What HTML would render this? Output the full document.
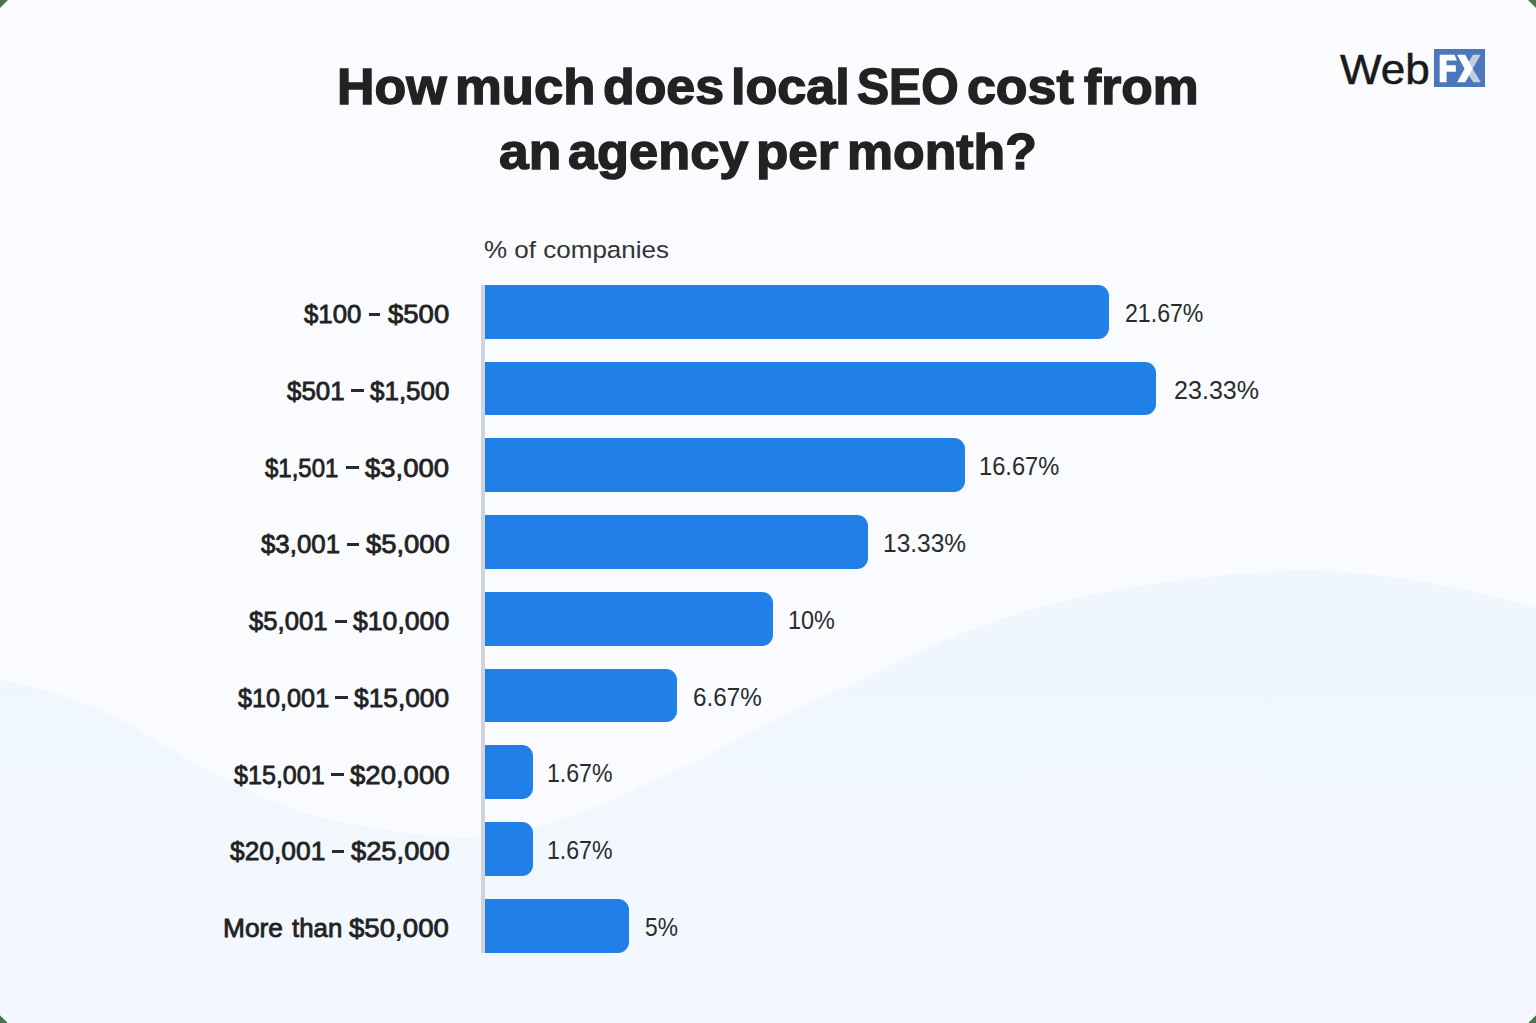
<!DOCTYPE html>
<html><head><meta charset="utf-8">
<style>
html,body{margin:0;padding:0;}
body{width:1536px;height:1023px;background:#4a7350;position:relative;overflow:hidden;font-family:"Liberation Sans",sans-serif;}
#card{position:absolute;left:0;top:0;width:1536px;height:1023px;background:#f9fbfe;clip-path:polygon(8px 0,1528px 0,1536px 8px,1536px 1015px,1528px 1023px,8px 1023px,0 1015px,0 8px);overflow:hidden;}
#wave{position:absolute;left:0;top:0;}
.t{position:absolute;white-space:nowrap;line-height:60px;transform-origin:0 0;font-family:"Liberation Sans",sans-serif;}
#fx{position:absolute;left:1433.5px;top:49px;}
#axis{position:absolute;left:481px;top:284.8px;width:3.5px;height:668.1px;background:#cfd4db;}
.dash{position:absolute;height:3px;background:#2a2a2a;}
.bar{position:absolute;left:484.5px;height:53.8px;background:#217fe8;border-radius:0 11px 11px 0;}
</style></head><body>
<div id="card">
<svg id="wave" width="1536" height="1023" viewBox="0 0 1536 1023"><defs><linearGradient id="wg" x1="0" y1="570" x2="0" y2="1023" gradientUnits="userSpaceOnUse"><stop offset="0" stop-color="#eff6fe"/><stop offset="1" stop-color="#f4f8fe"/></linearGradient></defs>
<path d="M-20,675 C-13.3,676.3 -6.7,677.5 0,679 C32.7,686.1 65.3,694.9 98,709 C130.3,723.0 162.7,746.4 195,763 C226.7,779.3 258.3,796.8 290,808 C324.7,820.2 359.3,826.2 394,831 C422.7,835.0 451.3,839.2 480,837 C506.7,835.0 533.3,828.2 560,820 C590.0,810.8 620.0,796.2 650,783 C705.7,758.4 761.3,726.1 817,700 C879.3,670.7 941.7,638.3 1004,618 C1073.3,595.4 1142.7,583.6 1212,576.5 C1248.0,572.8 1284.0,570.0 1320,571 C1360.0,572.1 1400.0,577.6 1440,585 C1472.0,590.9 1504.0,599.0 1536,608 C1544.0,610.2 1552.0,612.7 1560,615 L1560,1023 L-20,1023 Z" fill="url(#wg)"/>
</svg>
<svg id="fx" width="51.5" height="38" viewBox="0 0 51.5 38">
<rect x="0" y="0" width="51.5" height="38" fill="#4d77bd"/>
<path d="M5.7,5.77 L20.5,5.77 L22.9,11.6 L12.56,11.6 L12.56,16.24 L21.8,16.24 L21.8,22.84 L12.56,22.84 L12.56,33.18 L5.7,33.18 Z" fill="#ffffff"/>
<path d="M38.95,5.77 L46.65,5.77 L38.7,19.76 L46.9,33.18 L39.4,33.18 L30.6,19.76 Z" fill="#bfcfde"/>
<path d="M23.1,5.77 L31.26,5.77 L38.7,19.76 L31.26,33.18 L23.1,33.18 L30.6,19.76 Z" fill="#ffffff"/>
</svg>
<div id="axis"></div>
<div class="bar" style="top:284.80px;width:624.10px"></div>
<div class="bar" style="top:361.56px;width:671.90px"></div>
<div class="bar" style="top:438.32px;width:480.10px"></div>
<div class="bar" style="top:515.08px;width:383.90px"></div>
<div class="bar" style="top:591.84px;width:288.00px"></div>
<div class="bar" style="top:668.60px;width:192.10px"></div>
<div class="bar" style="top:745.36px;width:48.10px"></div>
<div class="bar" style="top:822.12px;width:48.10px"></div>
<div class="bar" style="top:898.88px;width:144.00px"></div>
<div class="t" style="left:336.85px;top:57.30px;transform:scaleX(1.0490);font-weight:bold;font-size:49.5px;-webkit-text-stroke:1.4px #222222;color:#222222">How</div>
<div class="t" style="left:454.81px;top:57.30px;transform:scaleX(1.0630);font-weight:bold;font-size:49.5px;-webkit-text-stroke:1.4px #222222;color:#222222">much</div>
<div class="t" style="left:603.25px;top:57.30px;transform:scaleX(1.0478);font-weight:bold;font-size:49.5px;-webkit-text-stroke:1.4px #222222;color:#222222">does</div>
<div class="t" style="left:730.64px;top:57.30px;transform:scaleX(1.0533);font-weight:bold;font-size:49.5px;-webkit-text-stroke:1.4px #222222;color:#222222">local</div>
<div class="t" style="left:857.23px;top:57.30px;transform:scaleX(0.9716);font-weight:bold;font-size:49.5px;-webkit-text-stroke:1.4px #222222;color:#222222">SEO</div>
<div class="t" style="left:967.35px;top:57.30px;transform:scaleX(1.0485);font-weight:bold;font-size:49.5px;-webkit-text-stroke:1.4px #222222;color:#222222">cost</div>
<div class="t" style="left:1084.40px;top:57.30px;transform:scaleX(1.0417);font-weight:bold;font-size:49.5px;-webkit-text-stroke:1.4px #222222;color:#222222">from</div>
<div class="t" style="left:499.12px;top:122.30px;transform:scaleX(1.0778);font-weight:bold;font-size:49.5px;-webkit-text-stroke:1.4px #222222;color:#222222">an</div>
<div class="t" style="left:568.04px;top:122.30px;transform:scaleX(1.0571);font-weight:bold;font-size:49.5px;-webkit-text-stroke:1.4px #222222;color:#222222">agency</div>
<div class="t" style="left:756.29px;top:122.30px;transform:scaleX(1.0689);font-weight:bold;font-size:49.5px;-webkit-text-stroke:1.4px #222222;color:#222222">per</div>
<div class="t" style="left:847.26px;top:122.30px;transform:scaleX(1.0460);font-weight:bold;font-size:49.5px;-webkit-text-stroke:1.4px #222222;color:#222222">month?</div>
<div class="t" style="left:1340.20px;top:39.60px;transform:scaleX(1.0542);font-size:41.8px;-webkit-text-stroke:0.5px #1a1a1a;color:#1a1a1a">Web</div>
<div class="t" style="left:483.73px;top:219.60px;transform:scaleX(1.0702);font-size:24.3px;color:#333333">% of companies</div>
<div class="t" style="left:304.06px;top:284.00px;transform:scaleX(0.9921);font-size:26px;-webkit-text-stroke:0.8px #222222;color:#222222">$100</div>
<div class="t" style="left:387.70px;top:284.00px;transform:scaleX(1.0586);font-size:26px;-webkit-text-stroke:0.8px #222222;color:#222222">$500</div>
<div class="t" style="left:1124.81px;top:282.90px;transform:scaleX(0.8895);font-size:26px;color:#2b2b2b">21.67%</div>
<div class="t" style="left:287.40px;top:360.76px;transform:scaleX(0.9947);font-size:26px;-webkit-text-stroke:0.8px #222222;color:#222222">$501</div>
<div class="t" style="left:370.10px;top:360.76px;transform:scaleX(0.9987);font-size:26px;-webkit-text-stroke:0.8px #222222;color:#222222">$1,500</div>
<div class="t" style="left:1173.53px;top:359.66px;transform:scaleX(0.9651);font-size:26px;color:#2b2b2b">23.33%</div>
<div class="t" style="left:265.40px;top:437.52px;transform:scaleX(0.9228);font-size:26px;-webkit-text-stroke:0.8px #222222;color:#222222">$1,501</div>
<div class="t" style="left:365.40px;top:437.52px;transform:scaleX(1.0582);font-size:26px;-webkit-text-stroke:0.8px #222222;color:#222222">$3,000</div>
<div class="t" style="left:979.18px;top:436.42px;transform:scaleX(0.9106);font-size:26px;color:#2b2b2b">16.67%</div>
<div class="t" style="left:260.90px;top:514.28px;transform:scaleX(0.9937);font-size:26px;-webkit-text-stroke:0.8px #222222;color:#222222">$3,001</div>
<div class="t" style="left:365.70px;top:514.28px;transform:scaleX(1.0544);font-size:26px;-webkit-text-stroke:0.8px #222222;color:#222222">$5,000</div>
<div class="t" style="left:883.32px;top:513.18px;transform:scaleX(0.9424);font-size:26px;color:#2b2b2b">13.33%</div>
<div class="t" style="left:249.10px;top:591.04px;transform:scaleX(0.9873);font-size:26px;-webkit-text-stroke:0.8px #222222;color:#222222">$5,001</div>
<div class="t" style="left:353.10px;top:591.04px;transform:scaleX(1.0234);font-size:26px;-webkit-text-stroke:0.8px #222222;color:#222222">$10,000</div>
<div class="t" style="left:787.60px;top:589.94px;transform:scaleX(0.9000);font-size:26px;color:#2b2b2b">10%</div>
<div class="t" style="left:237.60px;top:667.80px;transform:scaleX(0.9699);font-size:26px;-webkit-text-stroke:0.8px #222222;color:#222222">$10,001</div>
<div class="t" style="left:354.20px;top:667.80px;transform:scaleX(1.0117);font-size:26px;-webkit-text-stroke:0.8px #222222;color:#222222">$15,000</div>
<div class="t" style="left:692.57px;top:666.70px;transform:scaleX(0.9319);font-size:26px;color:#2b2b2b">6.67%</div>
<div class="t" style="left:234.00px;top:744.56px;transform:scaleX(0.9656);font-size:26px;-webkit-text-stroke:0.8px #222222;color:#222222">$15,001</div>
<div class="t" style="left:349.60px;top:744.56px;transform:scaleX(1.0596);font-size:26px;-webkit-text-stroke:0.8px #222222;color:#222222">$20,000</div>
<div class="t" style="left:547.02px;top:743.46px;transform:scaleX(0.8887);font-size:26px;color:#2b2b2b">1.67%</div>
<div class="t" style="left:230.20px;top:821.32px;transform:scaleX(1.0151);font-size:26px;-webkit-text-stroke:0.8px #222222;color:#222222">$20,001</div>
<div class="t" style="left:350.50px;top:821.32px;transform:scaleX(1.0500);font-size:26px;-webkit-text-stroke:0.8px #222222;color:#222222">$25,000</div>
<div class="t" style="left:547.02px;top:820.22px;transform:scaleX(0.8887);font-size:26px;color:#2b2b2b">1.67%</div>
<div class="t" style="left:223.38px;top:898.08px;transform:scaleX(1.0105);font-size:26px;-webkit-text-stroke:0.8px #222222;color:#222222">More</div>
<div class="t" style="left:291.80px;top:898.08px;transform:scaleX(0.9960);font-size:26px;-webkit-text-stroke:0.8px #222222;color:#222222">than</div>
<div class="t" style="left:349.10px;top:898.08px;transform:scaleX(1.0628);font-size:26px;-webkit-text-stroke:0.8px #222222;color:#222222">$50,000</div>
<div class="t" style="left:645.33px;top:896.98px;transform:scaleX(0.8750);font-size:26px;color:#2b2b2b">5%</div>
<div class="dash" style="left:368.8px;top:313px;width:11.7px"></div>
<div class="dash" style="left:351.3px;top:389px;width:12.7px"></div>
<div class="dash" style="left:346.1px;top:466px;width:13.1px"></div>
<div class="dash" style="left:346.8px;top:543px;width:12.4px"></div>
<div class="dash" style="left:334.5px;top:620px;width:12.6px"></div>
<div class="dash" style="left:335.2px;top:696px;width:12.7px"></div>
<div class="dash" style="left:331.0px;top:773px;width:13.0px"></div>
<div class="dash" style="left:331.6px;top:850px;width:12.9px"></div>
</div>
</body></html>
